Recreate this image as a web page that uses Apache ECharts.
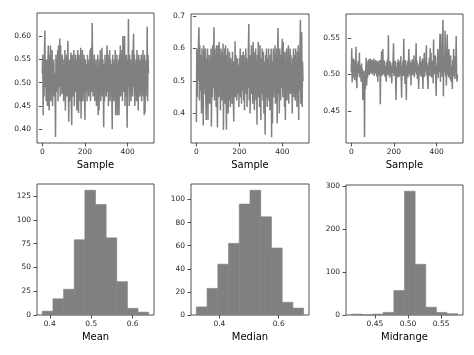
<!DOCTYPE html>
<html>
<head>
<meta charset="utf-8">
<script src="https://cdn.jsdelivr.net/npm/echarts@6/dist/echarts.min.js"></script>
<style>
html,body{margin:0;padding:0;background:#fff;}
#c{width:474px;height:355px;}
</style>
</head>
<body>
<div id="c"></div>
<script>
// ---- data (every 2nd sample of 500) ----
const sampleStep = 2;
const meanSeries = [
0.52,0.56,0.43,0.55,0.47,0.56,0.612,0.49,0.53,0.46,
0.55,0.50,0.45,0.54,0.58,0.47,0.44,0.56,0.51,0.58,
0.46,0.55,0.49,0.57,0.45,0.53,0.48,0.55,0.47,0.52,
0.47,0.383,0.56,0.48,0.55,0.50,0.57,0.46,0.58,0.49,
0.56,0.595,0.47,0.58,0.49,0.54,0.475,0.56,0.50,0.53,
0.46,0.55,0.48,0.57,0.44,0.53,0.50,0.56,0.47,0.54,
0.59,0.48,0.416,0.55,0.46,0.54,0.49,0.565,0.45,0.409,
0.56,0.50,0.55,0.47,0.57,0.45,0.53,0.49,0.56,0.48,
0.55,0.44,0.52,0.57,0.47,0.435,0.56,0.50,0.54,0.46,
0.575,0.423,0.55,0.48,0.57,0.46,0.53,0.49,0.56,0.47,
0.42,0.55,0.52,0.48,0.54,0.46,0.56,0.50,0.53,0.47,
0.55,0.49,0.57,0.46,0.575,0.52,0.48,0.628,0.55,0.47,
0.54,0.50,0.56,0.46,0.53,0.49,0.55,0.45,0.52,0.47,
0.56,0.43,0.51,0.44,0.55,0.48,0.57,0.46,0.53,0.50,
0.575,0.47,0.55,0.49,0.404,0.54,0.46,0.56,0.50,0.53,
0.47,0.55,0.58,0.48,0.56,0.45,0.53,0.49,0.57,0.46,
0.55,0.50,0.54,0.47,0.40,0.56,0.48,0.53,0.46,0.55,
0.49,0.57,0.43,0.54,0.47,0.56,0.43,0.52,0.48,0.55,
0.43,0.56,0.50,0.58,0.47,0.55,0.49,0.57,0.46,0.60,
0.52,0.48,0.56,0.60,0.45,0.54,0.47,0.56,0.50,0.403,
0.55,0.49,0.637,0.53,0.45,0.56,0.48,0.54,0.46,0.55,
0.50,0.57,0.47,0.56,0.605,0.49,0.56,0.45,0.54,0.48,
0.55,0.46,0.57,0.50,0.53,0.44,0.56,0.48,0.55,0.47,
0.54,0.50,0.56,0.46,0.53,0.49,0.57,0.47,0.55,0.43,
0.56,0.435,0.54,0.47,0.55,0.49,0.62,0.46,0.56,0.52
];
const medianSeries = [
0.373,0.60,0.45,0.58,0.50,0.62,0.665,0.44,0.61,0.47,
0.58,0.52,0.40,0.60,0.48,0.55,0.363,0.61,0.46,0.59,
0.50,0.60,0.44,0.38,0.57,0.49,0.60,0.38,0.52,0.47,
0.58,0.43,0.55,0.49,0.60,0.36,0.54,0.45,0.61,0.48,
0.57,0.665,0.44,0.60,0.50,0.58,0.42,0.61,0.47,0.357,
0.56,0.61,0.45,0.62,0.49,0.58,0.41,0.60,0.52,0.44,
0.59,0.47,0.615,0.349,0.57,0.50,0.60,0.43,0.61,0.46,
0.35,0.58,0.49,0.60,0.40,0.56,0.44,0.59,0.51,0.42,
0.57,0.47,0.55,0.43,0.59,0.50,0.45,0.375,0.56,0.48,
0.622,0.45,0.58,0.50,0.44,0.57,0.52,0.46,0.55,0.42,
0.57,0.49,0.60,0.45,0.56,0.43,0.58,0.51,0.47,0.59,
0.44,0.56,0.41,0.58,0.50,0.60,0.46,0.57,0.42,0.55,
0.48,0.60,0.675,0.44,0.58,0.40,0.56,0.49,0.61,0.46,
0.57,0.43,0.62,0.50,0.55,0.41,0.59,0.47,0.60,0.44,
0.56,0.365,0.58,0.50,0.62,0.45,0.55,0.42,0.61,0.48,
0.38,0.57,0.46,0.60,0.51,0.44,0.59,0.40,0.56,0.48,
0.335,0.58,0.45,0.60,0.49,0.42,0.57,0.50,0.60,0.44,
0.55,0.41,0.58,0.47,0.60,0.327,0.56,0.37,0.53,0.60,
0.45,0.58,0.49,0.61,0.43,0.57,0.50,0.60,0.37,0.59,
0.663,0.46,0.57,0.40,0.60,0.51,0.44,0.58,0.48,0.60,
0.63,0.45,0.62,0.50,0.56,0.42,0.59,0.38,0.55,0.47,
0.60,0.44,0.57,0.49,0.61,0.43,0.58,0.51,0.60,0.46,
0.58,0.47,0.55,0.40,0.57,0.49,0.60,0.45,0.58,0.52,
0.44,0.60,0.48,0.56,0.42,0.59,0.50,0.61,0.38,0.57,
0.47,0.60,0.688,0.43,0.58,0.65,0.42,0.56,0.50,0.50
];
const midrangeSeries = [
0.503,0.536,0.489,0.512,0.495,0.522,0.498,0.515,0.492,0.520,
0.500,0.538,0.494,0.481,0.513,0.497,0.518,0.502,0.510,0.530,
0.496,0.512,0.505,0.490,0.515,0.500,0.508,0.465,0.503,0.488,
0.505,0.414,0.498,0.480,0.507,0.523,0.485,0.510,0.495,0.519,
0.502,0.521,0.499,0.516,0.504,0.522,0.501,0.518,0.503,0.520,
0.500,0.517,0.505,0.522,0.498,0.515,0.503,0.520,0.501,0.514,
0.497,0.519,0.490,0.512,0.502,0.518,0.499,0.520,0.459,0.510,
0.503,0.532,0.498,0.516,0.535,0.500,0.513,0.504,0.519,0.497,
0.512,0.501,0.490,0.517,0.505,0.521,0.499,0.554,0.503,0.515,
0.496,0.518,0.504,0.512,0.500,0.488,0.516,0.502,0.520,0.543,
0.498,0.514,0.505,0.519,0.493,0.465,0.510,0.502,0.517,0.496,
0.521,0.500,0.513,0.497,0.518,0.503,0.525,0.495,0.468,0.512,
0.501,0.519,0.498,0.549,0.505,0.514,0.487,0.520,0.500,0.465,
0.512,0.503,0.518,0.496,0.515,0.535,0.501,0.520,0.498,0.513,
0.485,0.517,0.502,0.521,0.499,0.514,0.505,0.526,0.496,0.518,
0.503,0.512,0.543,0.500,0.519,0.494,0.515,0.504,0.480,0.512,
0.499,0.525,0.502,0.518,0.497,0.514,0.506,0.522,0.480,0.510,
0.501,0.530,0.497,0.516,0.504,0.520,0.540,0.499,0.512,0.493,
0.480,0.516,0.502,0.523,0.498,0.536,0.505,0.530,0.496,0.514,
0.503,0.519,0.488,0.548,0.500,0.516,0.505,0.526,0.497,0.4705,
0.512,0.500,0.521,0.535,0.495,0.516,0.503,0.530,0.556,0.490,
0.556,0.502,0.520,0.497,0.540,0.575,0.470,0.525,0.503,0.515,
0.560,0.498,0.519,0.485,0.530,0.555,0.500,0.521,0.496,0.535,
0.504,0.518,0.493,0.526,0.490,0.512,0.500,0.480,0.520,0.497,
0.535,0.502,0.517,0.494,0.525,0.505,0.553,0.498,0.490,0.500
];
const sampleCount = 500;

// histograms: 10 equal bins between first and last edge
const meanEdges = [0.382, 0.6386];
const meanCounts = [4, 17, 27, 79, 131, 116, 81, 35, 7, 3];
const medianEdges = [0.3225, 0.684];
const medianCounts = [7, 23, 44, 62, 96, 108, 85, 58, 11, 6];
const midrangeEdges = [0.4145, 0.575];
const midrangeCounts = [2, 0, 2, 6, 57, 288, 118, 18, 6, 3];

const topNames = ['Sample', 'Sample', 'Sample'];
const bottomNames = ['Mean', 'Median', 'Midrange'];
const meanYTicks = [0.40, 0.45, 0.50, 0.55, 0.60];
const medianYTicks = [0.4, 0.5, 0.6, 0.7];
const midrangeYTicks = [0.45, 0.50, 0.55];
const sampleTicks = [0, 200, 400];
const meanXTicks = [0.4, 0.5, 0.6];
const medianXTicks = [0.4, 0.6];
const midrangeXTicks = [0.45, 0.50, 0.55];
const meanCountTicks = [0, 25, 50, 75, 100, 125];
const medianCountTicks = [0, 20, 40, 60, 80, 100];
const midrangeCountTicks = [0, 100, 200, 300];

// ---- chart ----
const FONT = 'DejaVu Sans';
const GRAY = '#808080';
const INK = '#262626';

function pad(lo, hi) { const m = (hi - lo) * 0.05; return [lo - m, hi + m]; }
function toPoints(arr) { return arr.map((v, i) => [i * sampleStep, v]); }
function toBins(edges, counts) {
  const w = (edges[1] - edges[0]) / counts.length;
  return counts.map((c, i) => [edges[0] + i * w, edges[0] + (i + 1) * w, c]);
}

const grids = [
  {left: 37, top: 13, width: 117, height: 130},
  {left: 191, top: 14, width: 118, height: 129},
  {left: 346, top: 14, width: 117, height: 129},
  {left: 37, top: 184, width: 117, height: 131},
  {left: 191, top: 184, width: 118, height: 131},
  {left: 346, top: 185, width: 117, height: 130}
].map(g => Object.assign(g, {show: true, borderColor: INK, borderWidth: 0.8, backgroundColor: 'transparent', containLabel: false, outerBoundsMode: 'none'}));

function axisX(gi, range, ticks, dec, name) {
  return {
    type: 'value', gridIndex: gi, min: range[0], max: range[1],
    name: name, nameLocation: 'middle', nameGap: 17,
    nameTextStyle: {fontFamily: FONT, fontSize: 10, color: '#000', verticalAlign: 'top'},
    axisLine: {show: false},
    splitLine: {show: false},
    axisTick: {show: true, length: 3.5, lineStyle: {color: INK, width: 0.8}, customValues: ticks},
    axisLabel: {fontFamily: FONT, fontSize: 7.5, color: INK, margin: 5, customValues: ticks,
      formatter: v => dec < 0 ? String(Math.round(v)) : Number(v).toFixed(dec)}
  };
}
function axisY(gi, range, ticks, dec) {
  return {
    type: 'value', gridIndex: gi, min: range[0], max: range[1],
    axisLine: {show: false},
    splitLine: {show: false},
    axisTick: {show: true, length: 3.5, lineStyle: {color: INK, width: 0.8}, customValues: ticks},
    axisLabel: {fontFamily: FONT, fontSize: 7.5, color: INK, margin: 6, customValues: ticks,
      formatter: v => dec < 0 ? String(Math.round(v)) : Number(v).toFixed(dec)}
  };
}

const sampleRange = pad(0, sampleCount - 1);
const lineSets = [meanSeries, medianSeries, midrangeSeries];
const yRanges = lineSets.map(a => pad(Math.min.apply(null, a), Math.max.apply(null, a)));
const histSets = [[meanEdges, meanCounts], [medianEdges, medianCounts], [midrangeEdges, midrangeCounts]];
const hxRanges = histSets.map(h => pad(h[0][0], h[0][1]));
const hyRanges = histSets.map(h => [0, Math.max.apply(null, h[1]) * 1.05]);

const xAxes = [
  axisX(0, sampleRange, sampleTicks, -1, topNames[0]),
  axisX(1, sampleRange, sampleTicks, -1, topNames[1]),
  axisX(2, sampleRange, sampleTicks, -1, topNames[2]),
  axisX(3, hxRanges[0], meanXTicks, 1, bottomNames[0]),
  axisX(4, hxRanges[1], medianXTicks, 1, bottomNames[1]),
  axisX(5, hxRanges[2], midrangeXTicks, 2, bottomNames[2])
];
const yAxes = [
  axisY(0, yRanges[0], meanYTicks, 2),
  axisY(1, yRanges[1], medianYTicks, 1),
  axisY(2, yRanges[2], midrangeYTicks, 2),
  axisY(3, hyRanges[0], meanCountTicks, -1),
  axisY(4, hyRanges[1], medianCountTicks, -1),
  axisY(5, hyRanges[2], midrangeCountTicks, -1)
];

function histRender(params, api) {
  const p0 = api.coord([api.value(0), api.value(2)]);
  const p1 = api.coord([api.value(1), 0]);
  return {type: 'rect', shape: {x: p0[0], y: p0[1], width: p1[0] - p0[0], height: p1[1] - p0[1]},
    style: {fill: GRAY, stroke: GRAY, lineWidth: 0.6}};
}

const series = [];
lineSets.forEach((arr, i) => series.push({
  type: 'line', xAxisIndex: i, yAxisIndex: i, data: toPoints(arr),
  showSymbol: false, symbol: 'none', lineStyle: {color: GRAY, width: 1.5}, silent: true
}));
histSets.forEach((h, i) => series.push({
  type: 'custom', xAxisIndex: 3 + i, yAxisIndex: 3 + i, data: toBins(h[0], h[1]),
  encode: {x: [0, 1], y: 2}, renderItem: histRender, silent: true
}));

const chart = echarts.init(document.getElementById('c'), null, {renderer: 'canvas'});
chart.setOption({animation: false, backgroundColor: '#fff', grid: grids, xAxis: xAxes, yAxis: yAxes, series: series});
</script>
</body>
</html>
